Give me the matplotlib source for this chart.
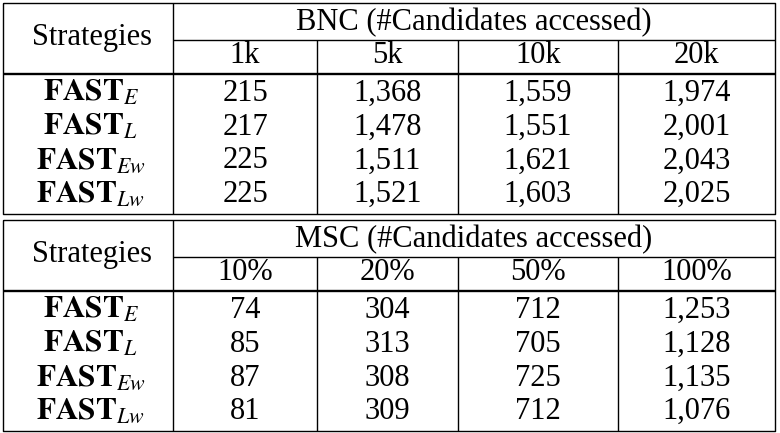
import matplotlib
matplotlib.use("Agg")
import matplotlib.pyplot as plt

plt.rcParams['font.family'] = ['Liberation Serif', 'DejaVu Serif']
plt.rcParams['mathtext.fontset'] = 'stix'

strategies = [r'$\mathbf{FAST}_{E}$', r'$\mathbf{FAST}_{L}$',
              r'$\mathbf{FAST}_{Ew}$', r'$\mathbf{FAST}_{Lw}$']

bnc_title = "BNC (#Candidates accessed)"
bnc_cols = ["1k", "5k", "10k", "20k"]
bnc_vals = [[215, 1368, 1559, 1974],
            [217, 1478, 1551, 2001],
            [225, 1511, 1621, 2043],
            [225, 1521, 1603, 2025]]

msc_title = "MSC (#Candidates accessed)"
msc_cols = ["10%", "20%", "50%", "100%"]
msc_vals = [[74, 304, 712, 1253],
            [85, 313, 705, 1128],
            [87, 308, 725, 1135],
            [81, 309, 712, 1076]]

W, H = 780, 433
fig = plt.figure(figsize=(W / 100, H / 100), dpi=100)
ax = fig.add_axes([0, 0, 1, 1])
ax.set_xlim(0, W)
ax.set_ylim(H, 0)
ax.axis('off')

xb = [2.5, 173, 317, 458, 618, 775]
fs = 22
lw = 1.0
lw_thick = 1.7


def draw_table(y0, title, cols, vals):
    top, hline, sline, bot = y0 + 3, y0 + 40, y0 + 73.5, y0 + 214
    kw = dict(color='black', solid_capstyle='butt')
    ax.plot([xb[0], xb[-1], xb[-1], xb[0], xb[0]], [top, top, bot, bot, top], lw=lw, **kw)
    ax.plot([xb[1], xb[-1]], [hline, hline], lw=lw, **kw)
    ax.plot([xb[0], xb[-1]], [sline, sline], lw=lw_thick, **kw)
    ax.plot([xb[1], xb[1]], [top, bot], lw=lw, **kw)
    for x in xb[2:-1]:
        ax.plot([x, x], [hline, bot], lw=lw, **kw)
    cx = [(xb[i] + xb[i + 1]) / 2 for i in range(5)]
    ax.text(cx[0] + 4, y0 + 45, "Strategies", ha='center', va='baseline', fontsize=fs)
    ax.text((xb[1] + xb[-1]) / 2, y0 + 30, title, ha='center', va='baseline', fontsize=fs)
    for j, c in enumerate(cols):
        ax.text(cx[j + 1], y0 + 63, c, ha='center', va='baseline', fontsize=fs)
    baselines = [y0 + 101, y0 + 135, y0 + 168.5, y0 + 202]
    for i, (s, row) in enumerate(zip(strategies, vals)):
        ax.text(cx[0] + 3, baselines[i], s, ha='center', va='baseline', fontsize=fs + 0.5)
        for j, v in enumerate(row):
            ax.text(cx[j + 1], baselines[i], f"{v:,}", ha='center', va='baseline', fontsize=fs)


draw_table(0, bnc_title, bnc_cols, bnc_vals)
draw_table(217, msc_title, msc_cols, msc_vals)

fig.savefig("out.png", dpi=100)
